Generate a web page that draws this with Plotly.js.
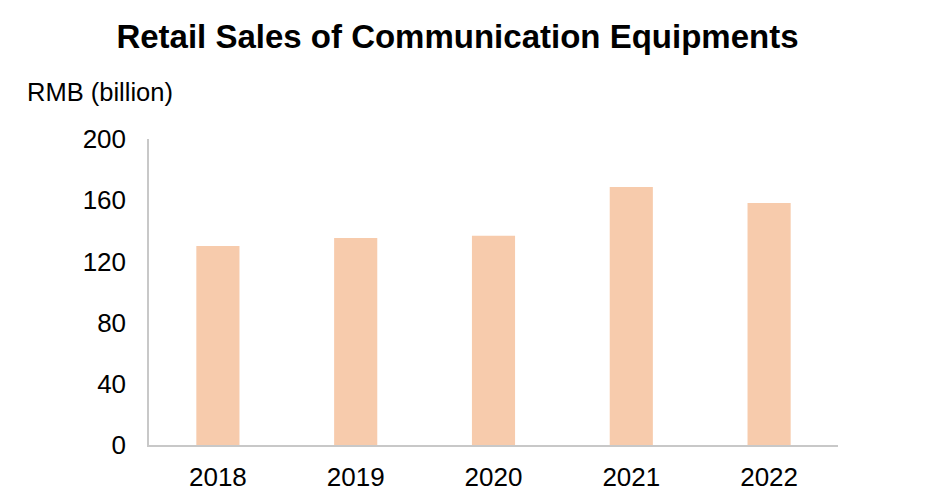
<!DOCTYPE html>
<html>
<head>
<meta charset="utf-8">
<script src="https://cdn.plot.ly/plotly-3.0.1.min.js"></script>
<style>
  body { margin: 0; background: #fff; }
  #chart { width: 926px; height: 504px; }
</style>
</head>
<body>
<div id="chart"></div>
<script>
// Dados
const years = ['2018', '2019', '2020', '2021', '2022'];
const sales = [130, 135.3, 136.8, 168.6, 158.2];
const yTicks = [0, 40, 80, 120, 160, 200];

const trace = {
    type: 'bar',
    x: years,
    y: sales,
    marker: { color: '#F7CBAC' },
    hoverinfo: 'x+y'
};

const layout = {
    width: 926,
    height: 504,
    paper_bgcolor: '#fff',
    plot_bgcolor: '#fff',
    font: { family: 'Liberation Sans, Arial, sans-serif', color: '#000' },
    margin: { l: 149, r: 88, t: 139, b: 59 },
    bargap: 0.687,
    showlegend: false,
    title: {
        text: '<b>Retail Sales of Communication Equipments</b>',
        font: { size: 33, color: '#000' },
        x: 0.494,
        xanchor: 'center',
        y: 0.927,
        yanchor: 'middle',
        yref: 'container'
    },
    xaxis: {
        type: 'category',
        showline: true,
        linecolor: '#C8C8C8',
        linewidth: 1.5,
        showgrid: false,
        zeroline: false,
        ticks: '',
        ticklabelstandoff: 8,
        tickfont: { size: 26, color: '#000' }
    },
    yaxis: {
        range: [0, 200],
        tickvals: yTicks,
        showline: true,
        linecolor: '#C8C8C8',
        linewidth: 1.5,
        showgrid: false,
        zeroline: false,
        ticks: '',
        ticklabelstandoff: 16,
        tickfont: { size: 26, color: '#000' }
    },
    annotations: [{
        text: 'RMB (billion)',
        xref: 'paper',
        yref: 'paper',
        x: (25 - 149) / 689,
        xanchor: 'left',
        y: 1.154,
        yanchor: 'middle',
        showarrow: false,
        font: { size: 25.5, color: '#000' }
    }]
};

Plotly.newPlot('chart', [trace], layout, { displayModeBar: false });
</script>
</body>
</html>
